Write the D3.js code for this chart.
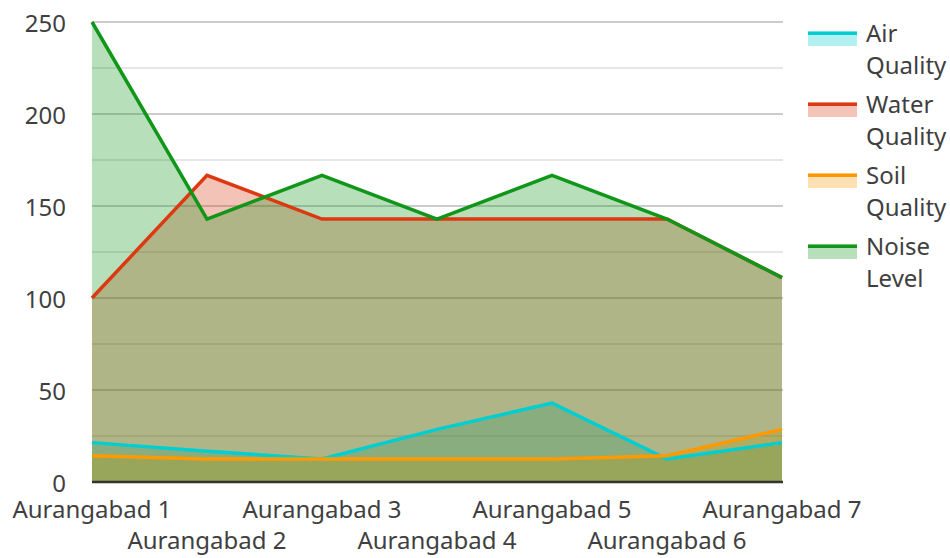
<!DOCTYPE html>
<html><head><meta charset="utf-8">
<script src="https://cdnjs.cloudflare.com/ajax/libs/d3/7.8.5/d3.min.js"></script>
<style>body{margin:0;background:#fff}svg{display:block;font-family:"Noto Sans",sans-serif}</style>
</head><body><svg id="c" width="950" height="558"></svg>
<script>
const categories = ["Aurangabad 1","Aurangabad 2","Aurangabad 3","Aurangabad 4","Aurangabad 5","Aurangabad 6","Aurangabad 7"];
const airQuality   = [21.4, 16.7, 12.5, 28.6, 42.9, 12.5, 21.4];
const waterQuality = [100, 166.7, 142.9, 142.9, 142.9, 142.9, 111.1];
const soilQuality  = [14.3, 12.5, 12.5, 12.5, 12.5, 14.3, 28.6];
const noiseLevel   = [250, 142.9, 166.7, 142.9, 166.7, 142.9, 111.1];
const seriesNames  = [["Air","Quality"],["Water","Quality"],["Soil","Quality"],["Noise","Level"]];
const seriesColors = ["#00CED1","#DC3912","#FF9900","#109618"];
const majorTicks = [0,50,100,150,200,250];
const minorTicks = [25,75,125,175,225];

const series = [airQuality, waterQuality, soilQuality, noiseLevel];
const svg = d3.select("#c");
const x = d3.scalePoint().domain(categories).range([92, 782]);
const y = d3.scaleLinear().domain([0, 250]).range([482, 22]);
const left = 92, right = 783;
const txt = "#3f3f3f", fs = 24;

// gridlines
svg.append("g").selectAll("line").data(minorTicks).join("line")
  .attr("x1", left).attr("x2", right).attr("y1", d => y(d)).attr("y2", d => y(d))
  .attr("stroke", "#e6e6e6").attr("stroke-width", 2);
svg.append("g").selectAll("line").data(majorTicks.filter(d => d > 0)).join("line")
  .attr("x1", left).attr("x2", right).attr("y1", d => y(d)).attr("y2", d => y(d))
  .attr("stroke", "#cccccc").attr("stroke-width", 2);

// areas
const area = d3.area().x((d, i) => x(categories[i])).y0(y(0)).y1(d => y(d));
const line = d3.line().x((d, i) => x(categories[i])).y(d => y(d));
svg.append("g").selectAll("path").data(series).join("path")
  .attr("d", d => area(d)).attr("fill", (d, i) => seriesColors[i]).attr("fill-opacity", 0.3);
svg.append("g").selectAll("path").data(series).join("path")
  .attr("d", d => line(d)).attr("fill", "none").attr("stroke", (d, i) => seriesColors[i])
  .attr("stroke-width", 3.5).attr("stroke-linejoin", "miter");

// baseline
svg.append("line").attr("x1", left).attr("x2", right).attr("y1", y(0)).attr("y2", y(0))
  .attr("stroke", "#333").attr("stroke-width", 2.5);

// y labels
svg.append("g").selectAll("text").data(majorTicks).join("text")
  .attr("x", 66).attr("y", d => y(d) + 9.5).attr("text-anchor", "end")
  .attr("font-size", fs).attr("fill", txt).text(d => d);

// x labels (staggered)
svg.append("g").selectAll("text").data(categories).join("text")
  .attr("x", d => x(d)).attr("y", (d, i) => i % 2 === 0 ? 518 : 549)
  .attr("text-anchor", "middle").attr("font-size", fs).attr("fill", txt).text(d => d);

// legend
const lg = svg.append("g").selectAll("g").data(seriesNames).join("g")
  .attr("transform", (d, i) => `translate(0,${i * 71})`);
lg.append("rect").attr("x", 808).attr("y", 31.5).attr("width", 49).attr("height", 14.5)
  .attr("fill", (d, i) => seriesColors[i]).attr("fill-opacity", 0.3);
lg.append("rect").attr("x", 808).attr("y", 31.5).attr("width", 49).attr("height", 3.5)
  .attr("fill", (d, i) => seriesColors[i]);
lg.append("text").attr("x", 866).attr("y", 42).attr("font-size", fs).attr("fill", txt).text(d => d[0]);
lg.append("text").attr("x", 866).attr("y", 74).attr("font-size", fs).attr("fill", txt).text(d => d[1]);
</script></body></html>
